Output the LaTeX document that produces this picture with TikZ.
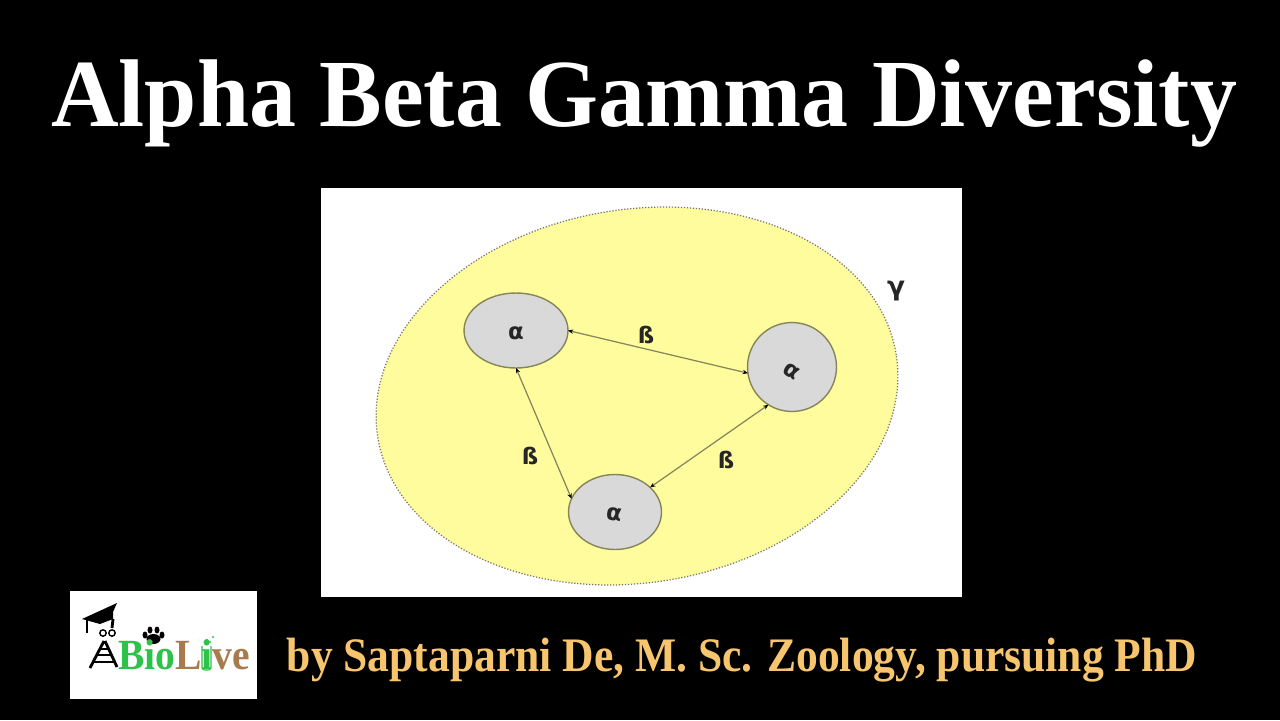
\documentclass[tikz,border=0pt]{standalone}
\usepackage{fontspec}
\usepackage{graphicx}
\setmainfont{Liberation Serif}
\newfontfamily\greekfont{DejaVu Sans}
\usetikzlibrary{shapes.geometric, arrows.meta}
\definecolor{zoneyellow}{HTML}{FFFC9E}
\definecolor{sitegray}{HTML}{D9D9D9}
\definecolor{siteedge}{HTML}{85855A}
\definecolor{bylinegold}{HTML}{F7C56E}
\definecolor{biogreen}{HTML}{2FC24A}
\definecolor{livebrown}{HTML}{A87B4F}
\begin{document}
\begin{tikzpicture}
        [x=0.02cm,y=-0.02cm,
        every node/.style={inner sep=0,outer sep=0},
        site/.style={draw=siteedge,line width=0.8pt,shape=ellipse,fill=sitegray},
        symbol/.style={font=\greekfont\bfseries\fontsize{13pt}{15pt}\selectfont,text=black!85},
        link/.style={draw=siteedge,line width=0.7pt,{Stealth[length=3pt,width=2.5pt,black]}-{Stealth[length=3pt,width=2.5pt,black]}}]

        \fill[black] (0,0) rectangle (1280,720);
        \useasboundingbox (0,0) rectangle (1280,720);

        \node[text=white,font=\bfseries] (title) at (644,103) {\resizebox{675pt}{38pt}{Alpha Beta Gamma Diversity}};
        \node[fill=white,minimum width=12.82cm,minimum height=8.18cm] (panel) at (641.5,392.5) {};

        \node[shape=ellipse,draw=black!55,densely dotted,line width=0.7pt,fill=zoneyellow,minimum width=10.5cm,minimum height=7.47cm,rotate=9] (gamma) at (637,396) {};

        \node[site,minimum width=2.08cm,minimum height=1.5cm] (a1) at (516,330.5) {};
        \node[site,minimum width=1.78cm,minimum height=1.78cm] (a2) at (792,367) {};
        \node[site,minimum width=1.86cm,minimum height=1.5cm] (a3) at (615,512) {};

        \node[symbol] (t1) at (516,333) {α};
        \node[symbol,rotate=-32] (t2) at (791,371) {α};
        \node[symbol,rotate=-8] (t3) at (614,514) {α};

        \draw[link] (a1.0) -- (a2.188);
        \draw[link] (a1.270) -- (a3.163);
        \draw[link] (a2.238) -- (a3.35);

        \node[symbol] (b1) at (646,335) {ß};
        \node[symbol] (b2) at (530,456) {ß};
        \node[symbol] (b3) at (726,460) {ß};
        \node[symbol,font=\greekfont\bfseries\fontsize{15pt}{18pt}\selectfont] (g1) at (896,291) {γ};

        \node[fill=white,minimum width=3.74cm,minimum height=2.16cm] (logo) at (163.5,645) {};
        \fill[black] (82,619) -- (117,603) -- (113,612) -- (113,619) -- (100,624) -- cycle;
        \draw[black,line width=0.6pt] (87,620) -- (87,633);
        \draw[black,line width=0.8pt] (103,633) circle (3.2) (112,633) circle (3.2);
        \draw[black,line width=1.6pt] (113,619) -- (112,628) (104,641) -- (90,668) (105,641) -- (117,667);
        \draw[black,line width=1pt] (100,649) -- (109,649) (97,655) -- (112,655) (94,662) -- (115,662);
        \fill[black] (145,635) ellipse (2.5 and 3.5) (150,630) ellipse (2.5 and 3.5) (157,630) ellipse (2.5 and 3.5) (162,635) ellipse (2.5 and 3.5) (153.5,639) ellipse (7 and 5);
        \node[font=\bfseries] (brand) at (184,655) {\resizebox{75pt}{17pt}{\textcolor{biogreen}{Bio}\textcolor{livebrown}{L}\textcolor{biogreen}{i}\textcolor{livebrown}{ve}}};
        \draw[biogreen,line width=0.6pt,rounded corners=1.5pt] (202,646) -- (202,670) -- (211,670) -- (211,646);
        \fill[biogreen] (207,640) circle (1.2) (213,637) circle (1.2) (210,642) circle (1.2);

        \node[text=bylinegold,font=\bfseries] (byline) at (742,660) {\resizebox{518pt}{19pt}{by Saptaparni De, M. Sc. Zoology, pursuing PhD}};
      \end{tikzpicture}
\end{document}
